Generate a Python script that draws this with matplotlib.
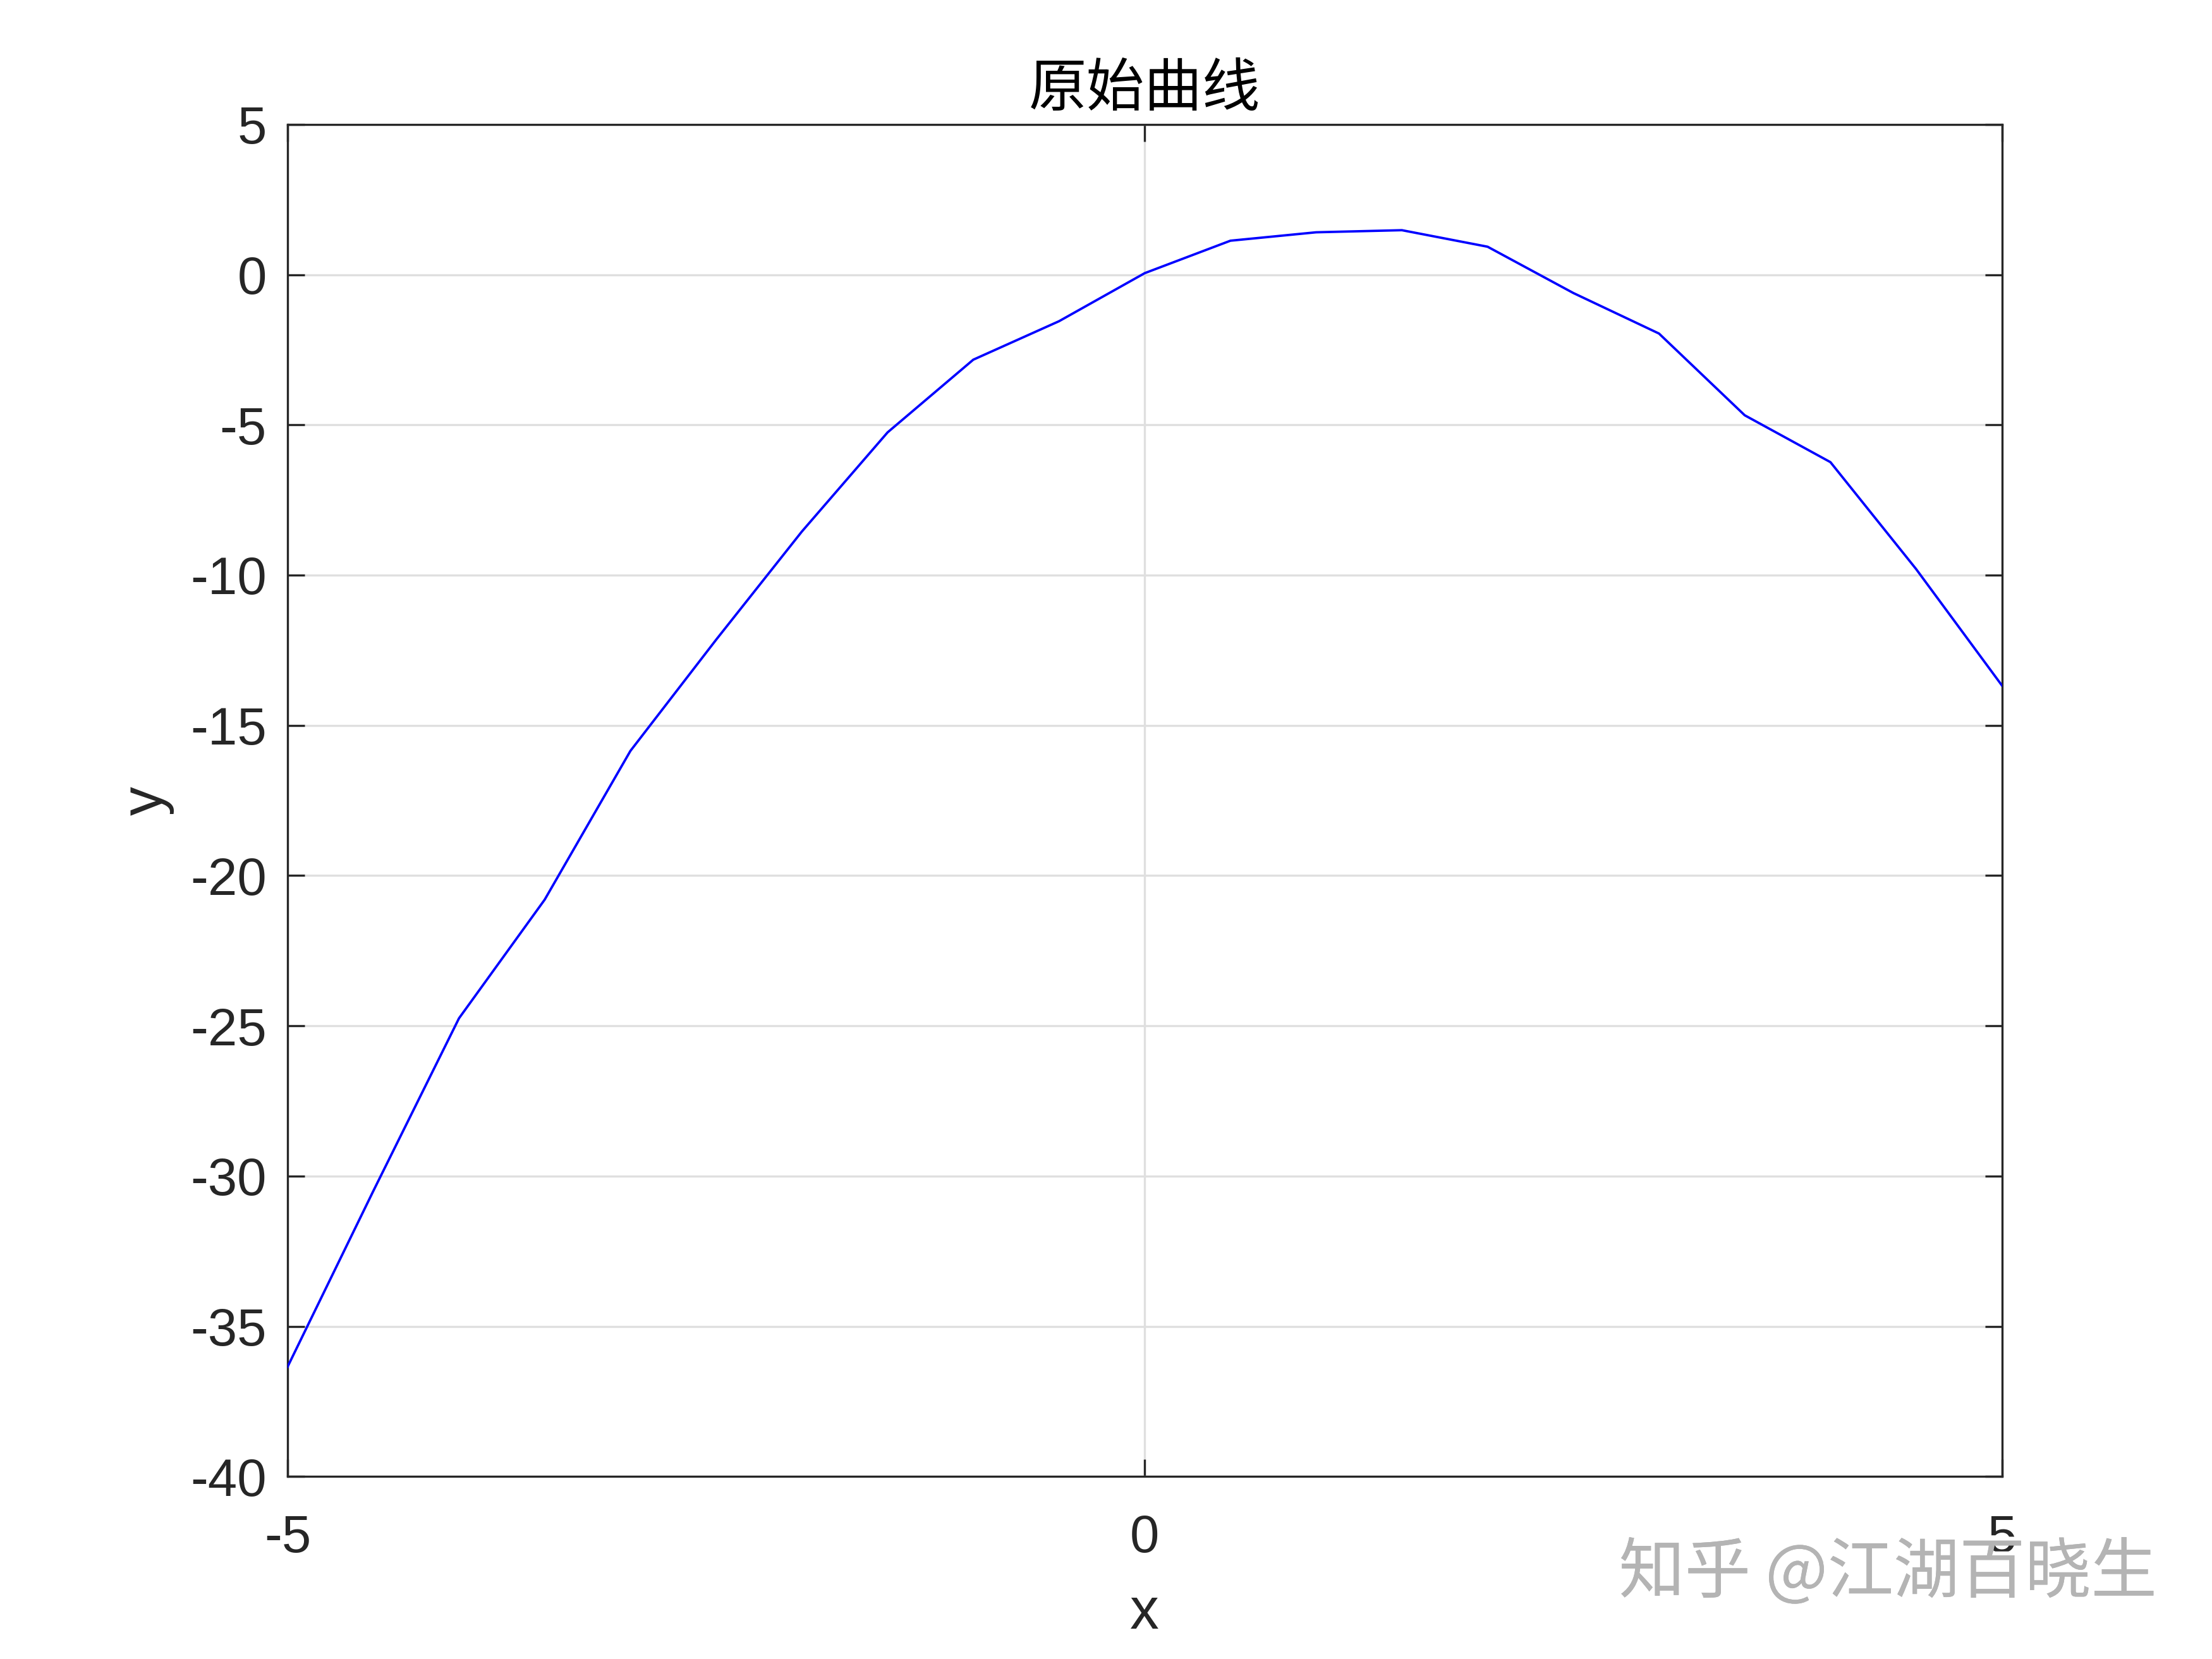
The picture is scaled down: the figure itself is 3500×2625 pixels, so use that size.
import matplotlib
matplotlib.use("Agg")
import matplotlib.pyplot as plt
import matplotlib.patheffects as pe

x_values = [-5.0, -4.5, -4.0, -3.5, -3.0, -2.5, -2.0, -1.5, -1.0, -0.5, 0.0,
            0.5, 1.0, 1.5, 2.0, 2.5, 3.0, 3.5, 4.0, 4.5, 5.0]
y_values = [-36.35, -30.5, -24.75, -20.8, -15.85, -12.15, -8.55, -5.25, -2.83, -1.55, 0.05,
            1.13, 1.41, 1.48, 0.93, -0.61, -1.96, -4.68, -6.24, -9.8, -13.67]
x_ticks = [-5, 0, 5]
y_ticks = [-40, -35, -30, -25, -20, -15, -10, -5, 0, 5]
title_text = "原始曲线"
x_label = "x"
y_label = "y"
watermark = "知乎 @江湖百晓生"

plt.rcParams['font.family'] = ['Liberation Sans', 'DejaVu Sans']
dark = '#262626'

fig = plt.figure(figsize=(3500/300, 2625/300), dpi=300)
ax = fig.add_axes([0.13, 0.11, 0.775, 0.815])

ax.plot(x_values, y_values, color=(0, 0, 1), linewidth=0.9, zorder=3)

ax.set_xlim(-5, 5)
ax.set_ylim(-40, 5)
ax.set_xticks(x_ticks)
ax.set_yticks(y_ticks)
ax.set_xticklabels([str(v) for v in x_ticks])
ax.set_yticklabels([str(v) for v in y_ticks])

ax.grid(True, color='#dfdfdf', linewidth=0.8, zorder=0)
ax.set_axisbelow(True)
for s in ax.spines.values():
    s.set_color(dark)
    s.set_linewidth(0.8)

ax.tick_params(axis='both', direction='in', length=6.5, width=0.8, color=dark,
               labelcolor=dark, labelsize=20, top=True, right=True)
ax.tick_params(axis='x', pad=14)
ax.tick_params(axis='y', pad=8)

ax.set_xlabel(x_label, fontsize=22, color=dark, labelpad=9)
ax.set_ylabel(y_label, fontsize=22, color=dark, labelpad=6)
ax.set_title(title_text, fontsize=22, color='black', pad=7,
             fontfamily=['Noto Sans CJK SC', 'DejaVu Sans'])

fig.text(0.975, 0.031, watermark, ha='right', va='bottom', fontsize=25,
         color='#b4b4b4', fontfamily=['Noto Sans CJK SC', 'DejaVu Sans'],
         zorder=10,
         path_effects=[pe.withSimplePatchShadow(offset=(-1.5, 1.5), shadow_rgbFace='white', alpha=1.0),
                       pe.Normal()])

fig.savefig("out.png", dpi=300, facecolor='white')
